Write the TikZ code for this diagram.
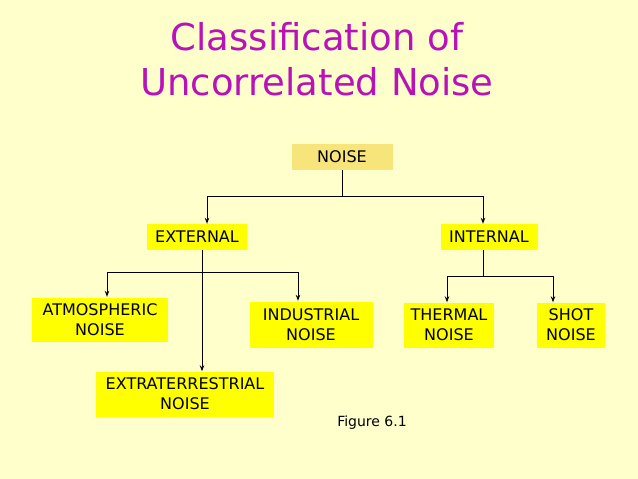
\documentclass[tikz,border=0pt]{standalone}
\usepackage{fontspec}
\setmainfont{DejaVu Sans}
\usetikzlibrary{arrows.meta,calc}
\definecolor{bg}{HTML}{FFFFCC}
\definecolor{boxy}{HTML}{FFFF00}
\definecolor{boxg}{HTML}{F7E47A}
\definecolor{titlec}{HTML}{B812B8}
\begin{document}
\begin{tikzpicture}[x=1pt,y=-1pt,
  box/.style={fill=boxy,inner sep=0pt,align=center,font=\fontsize{16}{20}\selectfont},
  arr/.style={-{Stealth[length=6pt,width=4.5pt]},line width=1pt},
  ln/.style={line width=1pt}]
\fill[bg] (0,0) rectangle (638,479);
\useasboundingbox (0,0) rectangle (638,479);
\node[titlec,font=\fontsize{37}{45}\selectfont,align=center] (title) at (317,59) {Classification of\\Uncorrelated Noise};
\node[box,fill=boxg,minimum width=101pt,minimum height=26pt] (noise) at (342,157) {NOISE};
\node[box,minimum width=100pt,minimum height=26pt] (external) at (197,237) {EXTERNAL};
\node[box,minimum width=97pt,minimum height=26pt] (internal) at (489,237) {INTERNAL};
\node[box,minimum width=136pt,minimum height=44pt] (atmo) at (100,320) {ATMOSPHERIC\\NOISE};
\node[box,minimum width=123pt,minimum height=46pt] (indus) at (311,325) {INDUSTRIAL\\NOISE};
\node[box,minimum width=90pt,minimum height=45pt] (thermal) at (449,325) {THERMAL\\NOISE};
\node[box,minimum width=68pt,minimum height=45pt] (shot) at (571,325) {SHOT\\NOISE};
\node[box,minimum width=178pt,minimum height=45pt] (extra) at (185,394) {EXTRATERRESTRIAL\\NOISE};
\node[font=\fontsize{14}{16}\selectfont] (fig) at (372,423) {Figure 6.1};
% NOISE branches
\coordinate (n0) at (342,196);
\coordinate (nl) at (207,196);
\coordinate (nr) at (483,196);
\draw[ln] (noise.south) -- (n0);
\draw[ln] (nl) -- (nr);
\draw[arr] (nl) -- (nl |- external.north);
\draw[arr] (nr) -- (nr |- internal.north);
% EXTERNAL branches
\coordinate (e0) at (202,250);
\coordinate (el) at (107,272);
\coordinate (er) at (298,272);
\draw[ln] (el) -- (er);
\draw[arr] (el) -- ($(el |- atmo.north)+(0,-1)$);
\draw[arr] (er) -- ($(er |- indus.north)+(0,-1)$);
\draw[arr] (e0) -- (e0 |- extra.north);
% INTERNAL branches
\coordinate (i0) at (483,250);
\coordinate (ij) at (483,276);
\coordinate (il) at (447,276);
\coordinate (ir) at (553,276);
\draw[ln] (i0) -- (ij);
\draw[ln] (il) -- (ir);
\draw[arr] (il) -- (il |- thermal.north);
\draw[arr] (ir) -- (ir |- shot.north);
\end{tikzpicture}
\end{document}
